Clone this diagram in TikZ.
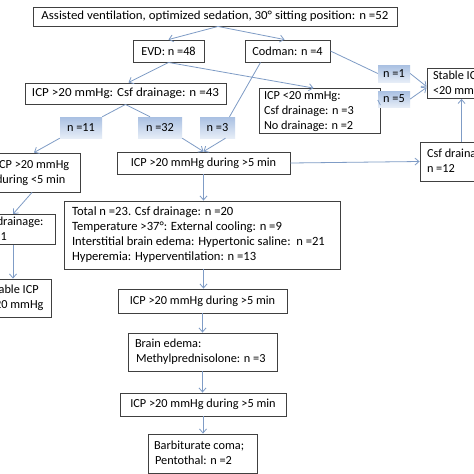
\documentclass[tikz,border=0pt]{standalone}
\usepackage{fontspec}
\usepackage{graphicx}
\setmainfont{Carlito}
\usetikzlibrary{arrows.meta,calc}
\definecolor{arr}{HTML}{7F9CC6}
\definecolor{lbltop}{HTML}{A9C0E2}
\definecolor{lblbot}{HTML}{E6EDF7}
\definecolor{bord}{HTML}{404040}
\newcommand\bfnt{\fontsize{12.3}{15}\selectfont}
\tikzset{
  box/.style={draw=bord, line width=0.9pt, fill=white, inner sep=0pt, font=\bfnt},
  lbl/.style={top color=lbltop, bottom color=lblbot, draw=none, inner sep=0pt, font=\bfnt},
  conn/.style={draw=arr, line width=0.8pt},
  arrow/.style={conn, -{Straight Barb[length=4pt,width=7pt]}}
}
% centred box: name, x1, y1, x2, y2, text
\newcommand\cbx[6]{%
  \pgfmathsetmacro\bw{#4-#2}\pgfmathsetmacro\bh{#5-#3}%
  \pgfmathsetmacro\cx{(#2+#4)/2}\pgfmathsetmacro\cy{(#3+#5)/2}%
  \node[box, minimum width=\bw pt, minimum height=\bh pt] (#1) at (\cx,\cy) {#6};}
% left aligned box: name, x1, y1, x2, y2, pad, text
\newcommand\lbx[7]{%
  \pgfmathsetmacro\bw{#4-#2}\pgfmathsetmacro\bh{#5-#3}%
  \pgfmathsetmacro\tw{#4-#2-2*#6}%
  \pgfmathsetmacro\cx{(#2+#4)/2}\pgfmathsetmacro\cy{(#3+#5)/2}%
  \node[box, minimum width=\bw pt, minimum height=\bh pt] (#1) at (\cx,\cy)
    {\makebox[\tw pt][l]{\begin{tabular}{@{}l@{}}#7\end{tabular}}};}
% label: name, x1, y1, x2, y2, text
\newcommand\lab[6]{%
  \pgfmathsetmacro\bw{#4-#2}\pgfmathsetmacro\bh{#5-#3}%
  \pgfmathsetmacro\cx{(#2+#4)/2}\pgfmathsetmacro\cy{(#3+#5)/2}%
  \node[lbl, minimum width=\bw pt, minimum height=\bh pt] (#1) at (\cx,\cy) {#6};}
\begin{document}
\begin{tikzpicture}[x=1pt,y=-1pt]
\useasboundingbox (0,0) rectangle (474,474);
\clip (0,0) rectangle (474,474);
\fill[white] (0,0) rectangle (474,474);

\cbx{top}{33}{7}{397}{26}{\resizebox{347pt}{\height}{Assisted ventilation, optimized sedation, 30° sitting position: n =52}}
\cbx{evd}{133}{40}{204}{62}{EVD: n =48}
\cbx{codman}{245}{40}{330}{62}{Codman: n =4}
\cbx{icpa}{25}{83}{226}{104}{\resizebox{187pt}{\height}{ICP >20 mmHg: Csf drainage: n =43}}
\lbx{icplow}{259}{89}{380}{133}{5}{ICP <20 mmHg:\\Csf drainage: n =3\\No drainage: n =2}
\lbx{stabler}{427}{70}{500}{97}{6}{Stable ICP\\<20 mmHg}
\lab{na}{378}{65}{410}{82}{n =1}
\lab{nb}{378}{91}{410}{107}{n =5}
\lab{nc}{60}{117}{102}{138}{n =11}
\lab{nd}{138}{117}{182}{138}{n =32}
\lab{ne}{200}{117}{235}{138}{n =3}
\cbx{icpb}{117}{152}{290}{174}{ICP >20 mmHg during >5 min}
\lbx{icpshort}{-12}{153}{80}{192}{8}{ICP >20 mmHg\\during <5 min}
\lbx{csfr}{420}{142}{500}{181}{7}{Csf drainage:\\n =12}
\lbx{total}{64}{201}{340}{269}{8}{\fontsize{12.6}{15}\selectfont Total n =23. Csf drainage: n =20\\\fontsize{12.6}{15}\selectfont Temperature >37°: External cooling: n =9\\\fontsize{12.6}{15}\selectfont Interstitial brain edema: Hypertonic saline:\ \ n =21\\\fontsize{12.6}{15}\selectfont Hyperemia: Hyperventilation: n =13}
\lbx{csfl}{-29}{216}{55}{243}{8}{Csf drainage:\\n =11}
\lbx{stablel}{-19}{279}{51}{317}{8}{Stable ICP\\<20 mmHg}
\cbx{icpc}{118}{289}{287}{313}{ICP >20 mmHg during >5 min}
\lbx{edema}{128}{333}{277}{371}{7}{Brain edema:\\\hspace{1pt}Methylprednisolone: n =3}
\cbx{icpd}{120}{393}{286}{416}{ICP >20 mmHg during >5 min}
\lbx{barb}{148}{434}{257}{473}{6}{Barbiturate coma;\\\hspace{1pt}Pentothal: n =2}

% connectors
\draw[arrow] ($(top.south)+(3,0)$) -- (evd.north);
\draw[arrow] ($(top.south)+(3,0)$) -- ($(codman.north)+(-3,0)$);
\draw[arrow] (evd.south) -- ($(icpa.north)+(3,0)$);
\draw[arrow] (evd.south) -- ($(icplow.north)+(-6,0)$);
\draw[conn] ($(codman.south)+(-27,0)$) -- ($(ne.north)+(12,0)$);
\draw[conn] (codman.east) -- (na.west);
\draw[arrow] (na.east) -- ($(stabler.west)+(0,3)$);
\draw[conn] ($(icplow.north east)+(0,17)$) -- ($(nb.west)+(0,1)$);
\draw[arrow] (nb.east) -- ($(stabler.west)+(0,4)$);
\draw[conn] (icpa.south) -- (nc.north east);
\draw[conn] (icpa.south) -- ($(nd.north)+(-10,0)$);
\draw[arrow] (nc.south west) -- (icpshort.north);
\draw[arrow] (nd.south east) -- (icpb.north);
\draw[arrow] ($(ne.south)+(8,0)$) -- (icpb.north);
\draw[arrow] (icpb.east) -- (csfr.west);
\draw[arrow] ($(csfr.north west)+(42,0)$) -- ($(stabler.south west)+(35,0)$);
\draw[arrow] (icpb.south) -- (icpb.south |- total.north);
\draw[arrow] ($(icpshort.south)+(-2,0)$) -- (csfl.north);
\draw[arrow] (csfl.south) -- (csfl.south |- stablel.north);
\draw[arrow] (total.south -| icpb.south) -- (icpb.south |- icpc.north);
\draw[arrow] (icpc.south) -- (icpc.south |- edema.north);
\draw[arrow] (edema.south -| icpc.south) -- (icpc.south |- icpd.north);
\draw[arrow] (icpd.south) -- (icpd.south |- barb.north);
\end{tikzpicture}
\end{document}
